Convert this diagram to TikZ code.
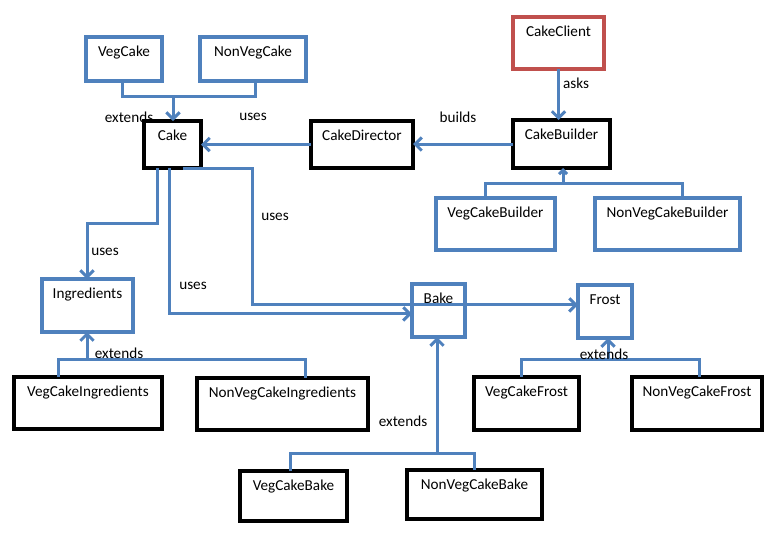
\documentclass[tikz,border=0pt]{standalone}
\usepackage{fontspec}
\setmainfont{Carlito}
\usetikzlibrary{arrows.meta}

\definecolor{umlblue}{HTML}{4F81BD}
\definecolor{umlred}{HTML}{C0504D}

\begin{document}
\begin{tikzpicture}[x=0.75pt, y=-0.75pt,
            font=\fontsize{11.4}{13}\selectfont,
            sz/.style 2 args={anchor=north west, inner xsep=0pt, inner ysep=0pt, outer sep=0pt,
                minimum width=#1*0.75pt, text height=14.25pt, text depth=#2*0.75pt-14.25pt},
            abstract/.style={draw=umlblue, line width=2.3pt},
            concrete/.style={draw=black, line width=2.5pt},
            clientbox/.style={draw=umlred, line width=2.3pt},
            link/.style={draw=umlblue, line width=2.25pt},
            arr/.style={link, -{Straight Barb[length=5pt,width=10pt]}},
            arr small/.style={link, -{Straight Barb[length=3pt,width=6pt]}},
            lbl/.style={inner sep=0pt},
            ]

            \useasboundingbox[fill=white] (0,0) rectangle (775,536);

            % classes
            \node[abstract, sz={76}{44}] (vegcake) at (86,37) {VegCake};
            \node[abstract, sz={106}{44}] (nonvegcake) at (200,37) {NonVegCake};
            \node[concrete, sz={57}{47}] (cake) at (144,121) {Cake};
            \node[concrete, sz={102}{47}] (director) at (311,121) {CakeDirector};
            \node[clientbox, sz={91}{52}] (client) at (513,17) {CakeClient};
            \node[concrete, sz={97}{48}] (builder) at (513,120) {CakeBuilder};
            \node[abstract, sz={119}{52}] (vegbuilder) at (436,198) {VegCakeBuilder};
            \node[abstract, sz={145}{52}] (nonvegbuilder) at (595,198) {NonVegCakeBuilder};
            \node[abstract, sz={91}{53}] (ingredients) at (42,279) {Ingredients};
            \node[concrete, sz={148}{52}] (vegingr) at (14,377) {VegCakeIngredients};
            \node[concrete, sz={171}{52}] (nonvegingr) at (197,378) {NonVegCakeIngredients};
            \node[abstract, sz={53}{53}] (bake) at (412,284) {Bake};
            \node[abstract, sz={54}{53}] (frost) at (578,285) {Frost};
            \node[concrete, sz={105}{53}] (vegfrost) at (474,377) {VegCakeFrost};
            \node[concrete, sz={130}{53}] (nonvegfrost) at (632,377) {NonVegCakeFrost};
            \node[concrete, sz={107}{50}] (vegbake) at (240,471) {VegCakeBake};
            \node[concrete, sz={135}{49}] (nonvegbake) at (407,470) {NonVegCakeBake};

            % bends and joins
            \coordinate (cakejoin) at (173,96);
            \coordinate (buildjoin) at (563,183);
            \coordinate (ingbend) at (87,223);
            \coordinate (frostbend) at (252,168);
            \coordinate (ingjoin) at (87,359);
            \coordinate (bakejoin) at (437,453);
            \coordinate (frostjoin) at (608,359);

            % top row
            \draw[link] ([xshift=-1.5pt]vegcake.south) |- (cakejoin) -| ([xshift=1.5pt]nonvegcake.south);
            \draw[arr] (cakejoin) -- (cakejoin |- cake.north);
            \draw[arr] (director.west) -- (cake.east);
            \draw[arr] (builder.west) -- (builder.west -| director.east);
            \draw[arr] (client.south) -- (client.south |- builder.north);
            \draw[link] ([xshift=-7.5pt]vegbuilder.north) |- (buildjoin) -| ([xshift=11.6pt]nonvegbuilder.north);
            \draw[arr small] (buildjoin) -- (buildjoin |- builder.south);

            % cake uses
            \draw[arr] ([xshift=-11.6pt]cake.south) |- (ingbend) -- (ingbend |- ingredients.north);
            \draw[arr] ([xshift=-2.6pt]cake.south) |- ([yshift=-2.6pt]bake.west);
            \draw[arr] ([xshift=7.9pt]cake.south) -- (frostbend) |- ([yshift=4.9pt]frost.west);

            % extends
            \draw[link] ([xshift=-22.5pt]vegingr.north) |- (ingjoin) -| ([xshift=16.9pt]nonvegingr.north);
            \draw[arr] (ingjoin) -- (ingjoin |- ingredients.south);
            \draw[link] ([xshift=-2.6pt]vegbake.north) |- (bakejoin) -| (nonvegbake.north);
            \draw[arr] (bakejoin) -- (bakejoin |- bake.south);
            \draw[link] ([xshift=-4.1pt]vegfrost.north) |- (frostjoin) -| ([xshift=2.2pt]nonvegfrost.north);
            \draw[arr] (frostjoin) -- (frostjoin |- frost.south);

            % labels
            \node[lbl] (extendscake) at (129,117) {extends};
            \node[lbl] (usesdirector) at (253,117) {uses};
            \node[lbl] (builds) at (458,117) {builds};
            \node[lbl] (asks) at (576,83) {asks};
            \node[lbl] (usesingr) at (105,252) {uses};
            \node[lbl] (usesbake) at (193,286) {uses};
            \node[lbl] (usesfrost) at (275,217) {uses};
            \node[lbl] (extendsingr) at (119,353) {extends};
            \node[lbl] (extendsbake) at (403,421) {extends};
            \node[lbl] (extendsfrost) at (604,354) {extends};
        \end{tikzpicture}
\end{document}
